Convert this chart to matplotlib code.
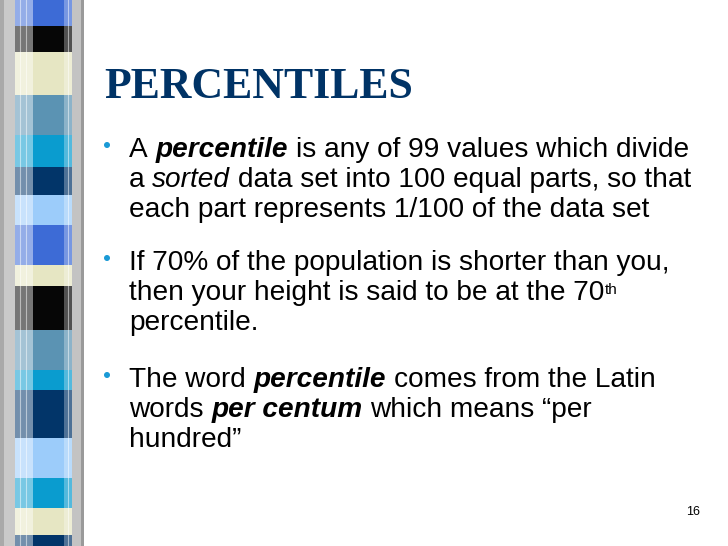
import matplotlib
matplotlib.use("Agg")
import matplotlib.pyplot as plt
from matplotlib.patches import Rectangle, Circle

# slide text
title = "PERCENTILES"
bullet1 = [
    [("A ", "n"), ("percentile", "bi"), (" is any of 99 values which divide", "n")],
    [("a ", "n"), ("sorted", "i"), (" data set into 100 equal parts, so that", "n")],
    [("each part represents 1/100 of the data set", "n")],
]
bullet2 = [
    [("If 70% of the population is shorter than you,", "n")],
    [("then your height is said to be at the 70", "n"), ("th", "sup")],
    [("percentile.", "n")],
]
bullet3 = [
    [("The word ", "n"), ("percentile", "bi"), (" comes from the Latin", "n")],
    [("words ", "n"), ("per centum", "bi"), (" which means \u201cper", "n")],
    [("hundred\u201d", "n")],
]
page_number = "16"

# decorative stripe on the left (colour, height in px, top to bottom)
stripe_colors = ["#3d6bd6", "#060606", "#e6e6c3", "#5b93b3", "#0a9ccf", "#023569",
                 "#9cccfa", "#3d6bd6", "#e6e6c3", "#060606", "#5b93b3", "#0a9ccf",
                 "#023569", "#9cccfa", "#0a9ccf", "#e6e6c3", "#023569"]
stripe_heights = [26, 26, 43, 40, 32, 28, 30, 40, 21, 44, 40, 20, 48, 40, 30, 27, 11]

W, H = 728, 546
fig = plt.figure(figsize=(W / 100, H / 100), dpi=100)
ax = fig.add_axes([0, 0, 1, 1])
ax.set_xlim(0, W)
ax.set_ylim(H, 0)
ax.axis("off")

# stripe frame
ax.add_patch(Rectangle((0, 0), 4, H, color="#a9a9a9", lw=0))
ax.add_patch(Rectangle((4, 0), 11, H, color="#c9c9c9", lw=0))
ax.add_patch(Rectangle((72, 0), 9, H, color="#c3c3c3", lw=0))
ax.add_patch(Rectangle((81, 0), 3, H, color="#9a9a9a", lw=0))
y0 = 0
for c, h in zip(stripe_colors, stripe_heights):
    ax.add_patch(Rectangle((15, y0), 57, h, color=c, lw=0))
    y0 += h
ax.add_patch(Rectangle((15, 0), 18, H, color="white", alpha=0.45, lw=0))
ax.add_patch(Rectangle((64, 0), 8, H, color="white", alpha=0.3, lw=0))
for xl in [20, 26, 68]:
    ax.plot([xl, xl], [0, H], color="white", lw=0.8, alpha=0.5)

# title
ax.text(104, 98, title, fontsize=31.5, fontweight="bold", family="Liberation Serif",
        color="#003366", va="baseline", ha="left")

renderer = fig.canvas.get_renderer()
FS = 20.2

styles = {
    "n": dict(fontsize=FS, fontweight="normal", fontstyle="normal"),
    "i": dict(fontsize=FS, fontweight="normal", fontstyle="italic"),
    "bi": dict(fontsize=FS, fontweight="bold", fontstyle="italic"),
    "sup": dict(fontsize=11, fontweight="normal", fontstyle="normal"),
}


def width_of(s, st):
    t = ax.text(0, 0, s, family="Liberation Sans", **styles[st])
    w = t.get_window_extent(renderer).width
    t.remove()
    return w


def space_w(st):
    return width_of("x x", st) - width_of("xx", st)


def draw_line(x, y, segs):
    for s, st in segs:
        lead = len(s) - len(s.lstrip(" "))
        trail = len(s) - len(s.rstrip(" "))
        core = s.strip(" ")
        x += lead * space_w(st)
        yy = y - 6 if st == "sup" else y
        t = ax.text(x, yy, core, family="Liberation Sans", color="black",
                    va="baseline", ha="left", **styles[st])
        x += t.get_window_extent(renderer).width
        x += trail * space_w(st)


line_gap = 30
for bullet, base in [(bullet1, 157), (bullet2, 270), (bullet3, 387)]:
    ax.add_patch(Circle((107, base - 12), 3, color="#1a9ad6", lw=0))
    for k, segs in enumerate(bullet):
        draw_line(129, base + k * line_gap, segs)

ax.text(700, 515, page_number, fontsize=9, family="Liberation Sans", color="black",
        ha="right", va="baseline")

fig.savefig("out.png", dpi=100)
